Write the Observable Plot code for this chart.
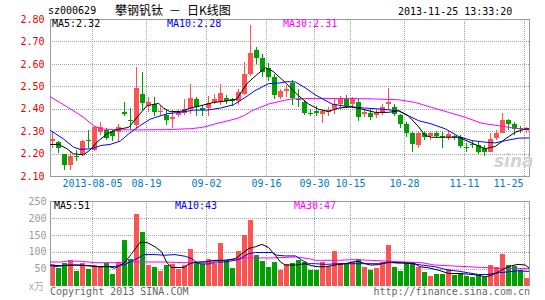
<!DOCTYPE html>
<html><head><meta charset="utf-8">
<script src="https://cdn.jsdelivr.net/npm/d3@7"></script>
<script src="https://cdn.jsdelivr.net/npm/@observablehq/plot@0.6"></script>
<style>
body{margin:0;background:#fff;}
#wrap{position:relative;width:545px;height:300px;overflow:hidden;background:#fff;font-family:"DejaVu Sans Mono",monospace;font-size:10px;}
#wrap svg{display:block;}
.t{position:absolute;white-space:pre;line-height:10px;font-size:10px;font-family:"DejaVu Sans Mono",monospace;}
</style></head>
<body><div id="wrap"></div>
<script>
// ---- data ----
const opens  = [2.255,2.253,2.198,2.151,2.191,2.196,2.262,2.218,2.295,2.307,2.302,2.295,2.384,2.351,2.329,2.464,2.416,2.421,2.384,2.373,
                2.352,2.371,2.383,2.400,2.442,2.404,2.404,2.430,2.430,2.449,2.442,2.435,2.467,2.555,2.663,2.625,2.580,2.541,2.452,2.479,
                2.514,2.442,2.430,2.383,2.390,2.375,2.386,2.400,2.420,2.445,2.420,2.430,2.375,2.381,2.371,2.381,2.420,2.408,2.371,2.331,
                2.290,2.238,2.290,2.280,2.290,2.279,2.272,2.280,2.272,2.231,2.241,2.238,2.224,2.209,2.268,2.293,2.349,2.331,2.315,2.307];
const highs  = [2.300,2.256,2.200,2.210,2.218,2.262,2.304,2.324,2.339,2.314,2.307,2.332,2.431,2.403,2.585,2.564,2.452,2.452,2.410,2.396,
                2.393,2.400,2.442,2.511,2.452,2.415,2.455,2.467,2.511,2.460,2.449,2.489,2.607,2.774,2.673,2.644,2.603,2.555,2.489,2.504,
                2.526,2.489,2.440,2.400,2.411,2.396,2.408,2.449,2.457,2.460,2.452,2.445,2.400,2.400,2.393,2.423,2.492,2.420,2.378,2.341,
                2.297,2.297,2.300,2.297,2.300,2.297,2.300,2.283,2.283,2.249,2.256,2.253,2.238,2.290,2.305,2.381,2.352,2.341,2.324,2.320];
const lows   = [2.225,2.203,2.126,2.126,2.166,2.188,2.225,2.210,2.284,2.262,2.258,2.255,2.369,2.307,2.314,2.396,2.384,2.369,2.370,2.329,
                2.312,2.364,2.371,2.378,2.368,2.367,2.368,2.423,2.415,2.423,2.411,2.415,2.460,2.548,2.600,2.541,2.523,2.445,2.442,2.452,
                2.415,2.408,2.371,2.367,2.368,2.337,2.368,2.375,2.396,2.405,2.405,2.346,2.364,2.349,2.359,2.371,2.393,2.368,2.316,2.275,
                2.206,2.224,2.260,2.260,2.268,2.227,2.260,2.260,2.224,2.206,2.224,2.200,2.187,2.206,2.260,2.290,2.305,2.283,2.290,2.290];
const closes = [2.263,2.224,2.151,2.191,2.184,2.255,2.255,2.317,2.317,2.270,2.280,2.317,2.376,2.345,2.493,2.425,2.431,2.384,2.391,2.351,
                2.365,2.383,2.400,2.449,2.408,2.393,2.426,2.442,2.471,2.433,2.433,2.474,2.555,2.648,2.626,2.563,2.541,2.460,2.477,2.489,
                2.448,2.437,2.381,2.378,2.383,2.390,2.393,2.420,2.445,2.410,2.445,2.364,2.386,2.364,2.386,2.408,2.430,2.375,2.331,2.293,
                2.241,2.290,2.272,2.290,2.280,2.275,2.287,2.272,2.234,2.227,2.237,2.209,2.206,2.263,2.293,2.349,2.331,2.309,2.309,2.315];
const volumes = [64,53,67,76,44,67,50,62,59,66,35,70,136,79,213,157,62,56,42,62,
                 64,48,62,109,68,63,78,66,125,74,53,103,149,195,91,73,56,70,45,65,
                 68,76,70,45,45,70,57,101,66,68,69,78,56,46,53,71,121,56,44,66,
                 71,56,41,29,35,35,48,32,37,29,26,32,26,62,54,94,60,58,47,23];

const dateIdx    = [8,17,27,37,45,51,60,70,80];
const dateLabels = ["2013-08-05","08-19","09-02","09-16","09-30","10-15","10-28","11-11","11-25"];
const priceTicks = [2.10,2.20,2.30,2.40,2.50,2.60,2.70,2.80];
const volTicks   = [50,100,150,200,250];

// moving-average lines as (candle position, value)
const ma5X  = [0.67,2.0,3.4,4.5,6.2,7.3,8.4,10.1,11.7,13.7,15.1,16.7,18.7,19.5,20.6,22.3,24.0,25.6,27.8,30.1,31.7,33.4,35.1,36.5,37.8,39.8,42.0,43.7,45.3,47.0,48.7,50.9,52.6,54.8,57.0,58.7,60.3,62.0,63.1,64.2,66.5,68.7,70.9,73.1,74.8,76.5,78.1,79.8,80.5];
const ma5Y  = [2.243,2.243,2.224,2.201,2.197,2.219,2.253,2.290,2.309,2.319,2.364,2.415,2.426,2.405,2.389,2.390,2.405,2.415,2.430,2.437,2.445,2.514,2.555,2.585,2.568,2.519,2.460,2.423,2.400,2.390,2.405,2.411,2.400,2.386,2.386,2.393,2.371,2.322,2.283,2.275,2.275,2.275,2.249,2.224,2.234,2.268,2.297,2.312,2.312];
const ma10X = [0.67,2.8,4.5,5.6,7.6,9.0,10.6,12.3,13.7,15.6,17.3,20.1,22.3,24.5,26.7,29.0,31.2,33.1,34.7,37.0,38.9,40.1,41.5,43.1,44.8,47.6,50.3,53.1,55.9,58.7,60.3,62.0,64.2,66.5,68.7,70.9,73.1,74.8,76.5,78.7,80.5];
const ma10Y = [2.305,2.268,2.231,2.221,2.224,2.238,2.243,2.258,2.290,2.327,2.356,2.380,2.386,2.396,2.396,2.405,2.420,2.452,2.482,2.514,2.517,2.523,2.521,2.496,2.464,2.423,2.411,2.405,2.400,2.393,2.371,2.349,2.334,2.312,2.278,2.260,2.253,2.250,2.260,2.271,2.272];
const ma30X = [0.67,3.4,6.2,7.8,9.0,12.0,16.0,20.0,24.0,26.0,28.6,31.4,33.0,34.2,37.0,39.7,41.0,44.8,50.3,54.2,58.7,61.5,64.2,67.0,69.8,72.6,75.3,78.1,80.5];
const ma30Y = [2.455,2.411,2.364,2.327,2.312,2.308,2.308,2.309,2.313,2.319,2.338,2.356,2.372,2.393,2.423,2.440,2.446,2.448,2.448,2.446,2.442,2.430,2.408,2.386,2.364,2.337,2.327,2.315,2.308];

const vma5X  = [0.67,2.5,4.7,7.0,8.6,10.3,11.3,12.0,13.1,14.2,15.6,16.7,18.1,19.2,20.0,20.8,23.0,23.6,24.7,26.5,28.1,29.8,31.5,32.6,33.7,34.8,35.9,37.0,38.1,39.0,39.8,41.5,43.1,44.2,45.3,46.5,48.1,49.8,50.9,52.0,53.1,54.0,55.3,57.0,58.6,60.3,61.4,62.2,63.6,65.3,67.0,68.6,70.3,72.0,73.1,74.2,75.3,76.4,77.5,78.6,79.8,80.5];
const vma5Y  = [61,60,62,60,57,58,53,58,71,96,129,129,116,101,71,55,55,64,70,71,76,76,81,96,111,116,123,114,91,71,62,62,66,60,57,57,62,66,71,73,66,62,63,71,68,68,66,57,54,47,37,37,35,32,27,32,42,52,60,64,62,52];
const vma10X = [0.67,1.4,3.6,5.8,8.6,10.3,11.4,13.1,14.7,16.4,18.1,19.7,21.4,23.1,24.2,25.3,27.0,28.1,29.8,32.0,33.7,34.8,37.6,38.4,39.8,41.5,42.6,43.7,44.8,46.5,48.7,53.1,55.3,57.0,59.2,60.9,62.5,64.7,67.0,68.6,70.3,72.0,73.6,75.3,77.0,78.6,80.5];
const vma10Y = [62,57,62,62,57,57,58,64,78,93,93,91,93,88,81,66,65,71,71,78,96,99,99,91,89,89,76,66,66,64,66,66,66,69,69,66,62,57,47,44,39,34,34,39,42,45,43];
const vma30X = [0.67,2.5,3.6,5.8,8.1,11.4,14.2,16.7,19.7,23.1,25.3,27.0,29.8,33.1,37.6,41.5,43.7,44.8,48.7,50.9,54.0,58.6,62.5,64.7,68.0,70.3,72.5,75.8,78.6,80.5];
const vma30Y = [71,71,74,73,69,69,71,71,71,69,71,73,76,83,83,86,81,76,76,78,76,72,69,62,59,57,55,52,52,51];

// ---- build ----
const candles = opens.map((o, k) => ({i: k + 1, open: o, high: highs[k], low: lows[k], close: closes[k], vol: volumes[k], up: closes[k] >= o}));
const pts = (xs, ys) => xs.map((x, k) => ({x, y: ys[k]}));
const RED = "#ff5252", GREEN = "#00a000", GRID = "#a0a0a0", FRAME = "#999";
const half = 2.5 / 6;
const xDomain = [1 - 2 / 6, 80.5];
const font = "DejaVu Sans Mono";
const dateRows = dateIdx.map((d, k) => ({d, label: dateLabels[k], last: k === dateIdx.length - 1}));

const main = Plot.plot({
  width: 545, height: 195,
  marginLeft: 50, marginRight: 16, marginTop: 19, marginBottom: 19,
  x: {domain: xDomain, axis: null},
  y: {domain: [2.10, 2.80], axis: null},
  style: {fontFamily: font, fontSize: "10px", background: "#fff"},
  marks: [
    Plot.ruleY(priceTicks.slice(1, -1), {stroke: GRID, strokeDasharray: "1,1", shapeRendering: "crispEdges"}),
    Plot.ruleX(dateIdx, {x: d => d - 1 / 3, stroke: GRID, strokeDasharray: "1,1", shapeRendering: "crispEdges"}),
    Plot.frame({stroke: FRAME, shapeRendering: "crispEdges"}),
    Plot.ruleX(candles, {x: "i", y1: "low", y2: "high", stroke: d => d.up ? RED : GREEN, shapeRendering: "crispEdges"}),
    Plot.rect(candles, {x1: d => d.i - half, x2: d => d.i + half, y1: d => Math.min(d.open, d.close), y2: d => Math.max(d.open, d.close), fill: d => d.up ? RED : GREEN, shapeRendering: "crispEdges"}),
    Plot.line(pts(ma30X, ma30Y), {x: "x", y: "y", stroke: "#ff00ff", strokeWidth: 1, clip: "frame"}),
    Plot.line(pts(ma10X, ma10Y), {x: "x", y: "y", stroke: "#0000ff", strokeWidth: 1, clip: "frame"}),
    Plot.line(pts(ma5X, ma5Y), {x: "x", y: "y", stroke: "#000", strokeWidth: 1, clip: "frame"}),
    Plot.text(priceTicks, {y: d => d, frameAnchor: "left", text: d => d.toFixed(2), textAnchor: "end", dx: -6, fill: "#e60000", fontSize: 10}),
    Plot.text(dateRows.filter(r => !r.last), {x: r => r.d - 1 / 3, frameAnchor: "bottom", text: "label", dy: 10, fill: "#0078c8", fontSize: 10}),
    Plot.text(dateRows.filter(r => r.last), {x: r => r.d - 1 / 3, frameAnchor: "bottom", text: "label", textAnchor: "end", dx: -1, dy: 10, fill: "#0078c8", fontSize: 10})
  ]
});

const vol = Plot.plot({
  width: 545, height: 105,
  marginLeft: 50, marginRight: 16, marginTop: 6, marginBottom: 14.5,
  x: {domain: xDomain, axis: null},
  y: {domain: [0, 250], axis: null},
  style: {fontFamily: font, fontSize: "10px", background: "#fff", overflow: "visible"},
  marks: [
    Plot.ruleY(volTicks.slice(0, -1), {stroke: GRID, strokeDasharray: "1,1", shapeRendering: "crispEdges"}),
    Plot.ruleX(dateIdx, {x: d => d - 1 / 3, y1: 0, y2: 250, stroke: GRID, strokeDasharray: "1,1", shapeRendering: "crispEdges"}),
    Plot.rect(candles, {x1: d => d.i - half, x2: d => d.i + half, y1: 0, y2: "vol", fill: d => d.up ? RED : GREEN, shapeRendering: "crispEdges"}),
    Plot.ruleY([250], {stroke: FRAME, shapeRendering: "crispEdges"}),
    Plot.ruleX(xDomain, {y1: 0, y2: 250, stroke: FRAME, shapeRendering: "crispEdges"}),
    Plot.line(pts(vma30X, vma30Y), {x: "x", y: "y", stroke: "#ff00ff", strokeWidth: 1, clip: "frame"}),
    Plot.line(pts(vma10X, vma10Y), {x: "x", y: "y", stroke: "#0000ff", strokeWidth: 1, clip: "frame"}),
    Plot.line(pts(vma5X, vma5Y), {x: "x", y: "y", stroke: "#000", strokeWidth: 1, clip: "frame"}),
    Plot.text(volTicks, {y: d => d, frameAnchor: "left", text: d => String(d), textAnchor: "end", dx: -4, fill: "#9a9a9a", fontSize: 10})
  ]
});

const wrap = document.getElementById("wrap");
wrap.appendChild(main);
wrap.appendChild(vol);

function label(txt, left, cy, color, extra) {
  const s = document.createElement("div");
  s.className = "t";
  s.textContent = txt;
  s.style.left = left + "px";
  s.style.top = (cy - 5) + "px";
  s.style.color = color;
  if (extra) Object.assign(s.style, extra);
  wrap.appendChild(s);
  return s;
}
label("sz000629", 48, 11, "#000");
label("攀钢钒钛\u2002－\u2002日K线图", 115, 11, "#000", {fontFamily: '"Noto Sans CJK SC", sans-serif', fontSize: "12px", lineHeight: "12px", top: "4px"});
label("2013-11-25 13:33:20", 398, 12, "#000");
label("MA5:2.32", 52, 24, "#000");
label("MA10:2.28", 167, 24, "#0000ff");
label("MA30:2.31", 283, 24, "#ff00ff");
label("MA5:51", 54, 206, "#000");
label("MA10:43", 175, 206, "#0000ff");
label("MA30:47", 294, 206, "#ff00ff");
label("x万", 29, 286, "#aaa", {fontFamily: '"Noto Sans CJK SC", sans-serif'});
label("Copyright 2013 SINA.COM", 50, 292, "#666");
const url = label("http://finance.sina.com.cn", 0, 292, "#666");
url.style.left = ""; url.style.right = (545 - 530) + "px";
label("sina", 494, 162, "#d4d4d4", {fontFamily: '"DejaVu Sans", sans-serif', fontSize: "17px", lineHeight: "17px", fontWeight: "bold", fontStyle: "italic", top: "153px"});
</script>
</body></html>
